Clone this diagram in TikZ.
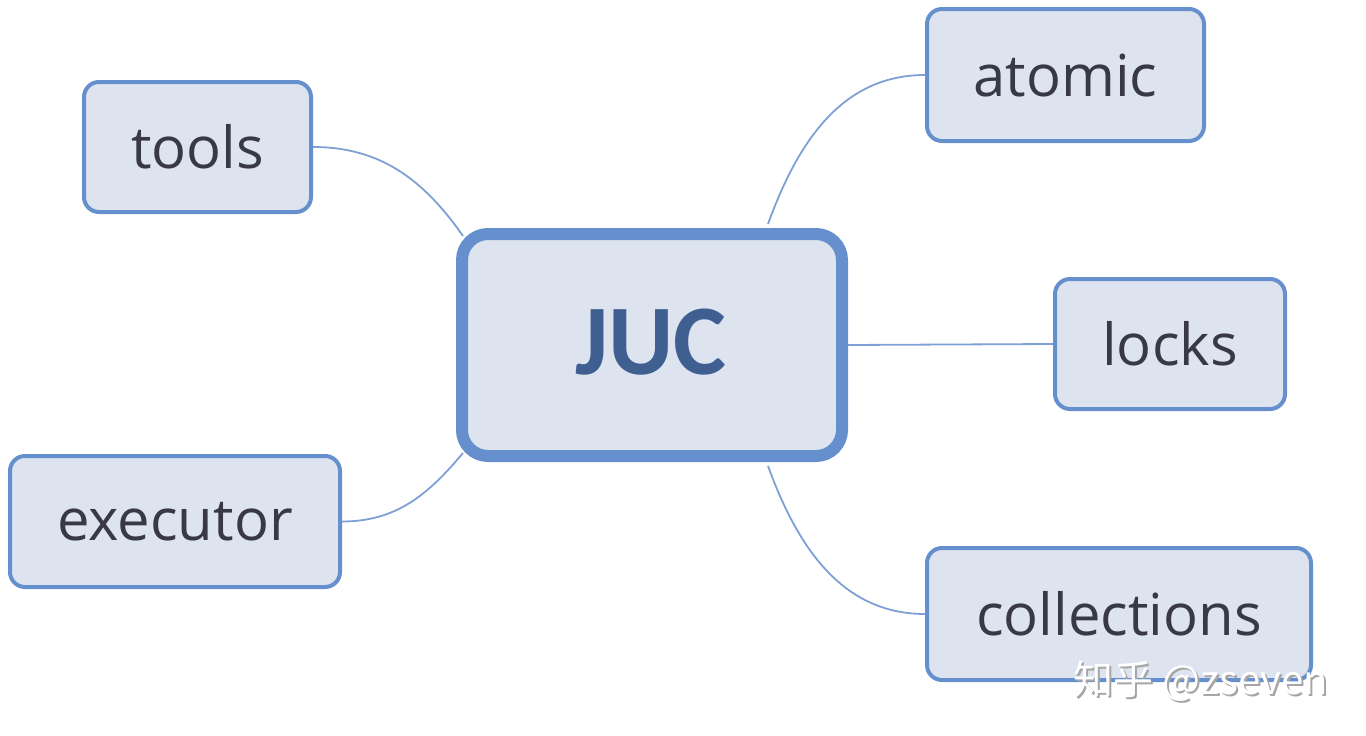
\documentclass[tikz,border=0pt]{standalone}
\usepackage{fontspec}
\setmainfont{Open Sans}
\newfontfamily\cjkfont{Noto Sans CJK SC}
\newfontfamily\rootfont{Carlito}
\definecolor{boxfill}{HTML}{DDE4F0}
\definecolor{boxline}{HTML}{6690CD}
\definecolor{linkline}{HTML}{7FA0D5}
\definecolor{txtdark}{HTML}{383846}
\definecolor{juctxt}{HTML}{3F5F90}
\begin{document}
\begin{tikzpicture}[x=1pt,y=-1pt,
  leaf/.style={draw=boxline,fill=boxfill,line width=4pt,rounded corners=15pt,
    inner sep=0pt,text=txtdark,font=\fontsize{58}{62}\selectfont},
  root/.style={draw=boxline,fill=boxfill,line width=12pt,rounded corners=26pt,
    inner sep=0pt,text=juctxt,font=\rootfont\fontsize{100}{104}\selectfont\bfseries},
  link/.style={draw=linkline,line width=1.8pt}]
\useasboundingbox (0,0) rectangle (1366,736);
\node[root,minimum width=380pt,minimum height=222pt] (juc) at (652,345) {};
\node[text=juctxt,font=\rootfont\fontsize{100}{104}\selectfont\bfseries,inner sep=0pt] (juclabel) at (651,342) {JUC};
\node[leaf,minimum width=227pt,minimum height=130pt] (tools) at (197.5,147) {tools};
\node[leaf,minimum width=277pt,minimum height=132pt] (atomic) at (1065.5,75) {atomic};
\node[leaf,minimum width=230pt,minimum height=130pt] (locks) at (1170,344) {locks};
\node[leaf,minimum width=330pt,minimum height=131pt] (executor) at (175,521.5) {executor};
\node[leaf,minimum width=384pt,minimum height=132pt] (collections) at (1119,614) {collections};
\coordinate (jtl) at (463,236);
\coordinate (jtr) at (768,224);
\coordinate (jbl) at (463,453);
\coordinate (jbr) at (768,466);
\draw[link] (tools.east) to[out=0,in=125] (jtl);
\draw[link] (atomic.west) to[out=180,in=70] (jtr);
\draw[link] (juc.east) -- (locks.west);
\draw[link] (executor.east) to[out=0,in=-130] (jbl);
\draw[link] (jbr) to[out=-70,in=180] (collections.west);
\node[text=gray!70,font=\cjkfont\fontsize{40}{42}\selectfont,anchor=west] (wmshadow) at (1072,683) {知乎 @zseven};
\node[text=white,font=\cjkfont\fontsize{40}{42}\selectfont,anchor=west] (wm) at (1070,681) {知乎 @zseven};
\end{tikzpicture}
\end{document}
